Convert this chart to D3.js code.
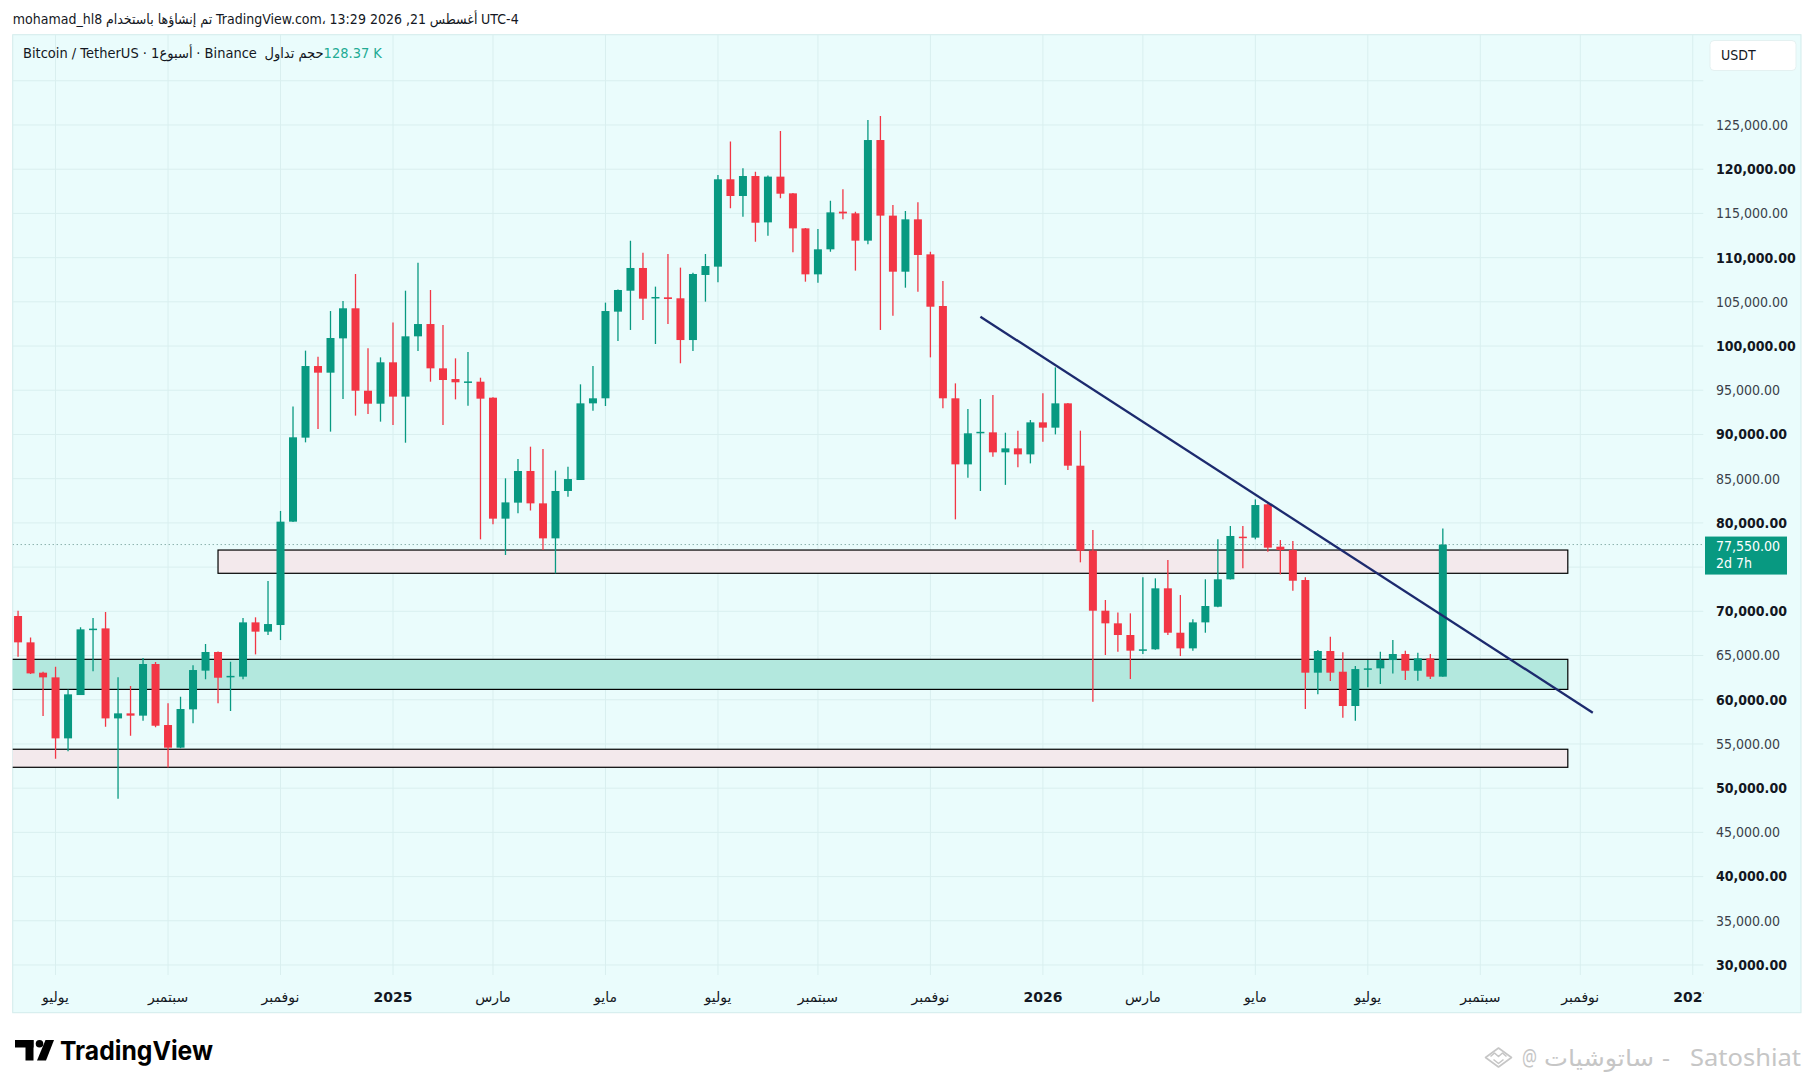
<!DOCTYPE html>
<html>
<head>
<meta charset="utf-8">
<script src="https://cdn.jsdelivr.net/npm/d3@7"></script>
<style>
body { margin: 0; background: #ffffff; }
text { font-family: 'DejaVu Sans', sans-serif; }
.scale { font-family: 'DejaVu Sans Condensed', 'DejaVu Sans', sans-serif; }
</style>
</head>
<body>
<svg id="chart"></svg>
<script>
// weekly BTC/USDT candles, first bar is the week of 10 Jun 2024
const firstWeek = "2024-06-10";
const opens = [69470,66490,63060,62530,55630,60530,67960,68070,57890,58460,58200,64040,57140,54580,58910,63290,65400,62600,62610,68750,
  67700,68450,80140,89640,97740,96990,100870,104270,94950,93480,98160,94280,101100,102490,97480,96270,95900,95970,94160,80480,
  82290,85870,82210,78250,83610,84850,93520,94090,103890,106260,108830,105450,105510,105400,100680,108040,108980,118860,116970,119230,
  113990,119160,117270,113310,108110,110940,115200,115010,111920,123300,114750,108410,114330,110370,104530,94090,86620,90200,90240,87980,
  88430,87750,91370,90770,93520,86470,76860,70070,68640,67320,65550,65700,72600,67580,65810,68750,70520,73620,78440,78330,
  82100,77310,76930,73540,63060,65510,63170,59290,63440,63550,64490,65170,63280,64680,62610];
const highs = [70070,67050,63170,63740,61170,68190,69240,69920,62530,61550,64720,64270,59590,60340,63890,66300,65450,64300,69240,69320,
  73430,81350,93150,99480,98800,103960,105100,108150,99740,98720,102650,106260,109430,106340,102380,98610,99330,96420,94200,85040,
  87230,88620,88360,85910,86360,95670,97740,104910,106400,111920,110560,106720,110410,108870,108300,110410,119350,123120,120100,119720,
  119300,124320,117300,113350,113240,116440,117720,115200,125570,126020,115950,115270,116250,110670,107360,95780,92880,94010,94460,90200,
  90430,91640,94650,97590,93550,90430,79200,71280,69880,69770,73840,73730,75800,71840,69090,73620,78140,79650,79650,82660,
  82210,78060,77950,73840,65620,67130,65360,63810,64490,65430,66750,65550,65320,65170,79380];
const lows = [64870,62900,58160,53330,54160,60530,63210,56950,48810,55930,57630,56900,52350,54500,57330,62310,59590,58720,62310,65130,
  67320,66750,80100,89110,90620,90320,94010,92130,92320,91450,91070,89070,99440,95970,91070,93970,93260,78140,79840,76370,
  81080,81400,76930,74290,82970,84850,92690,93220,100570,101820,102950,100230,102490,98050,99440,105020,107210,115580,114630,111810,
  112480,116710,110600,107280,107170,110670,114330,108530,111500,101820,103440,106600,106150,98720,92960,80400,85110,83610,87490,84300,
  86280,86730,89190,90010,85980,75540,59780,65060,65430,62340,65170,65650,67320,64940,65550,67580,70450,73600,74860,78140,
  76740,74180,72330,58950,60610,62120,57970,57630,61400,61780,62980,62230,62150,62340,62610];
const closes = [66490,62980,62530,55630,60610,67960,68040,57890,58460,58200,64040,57060,54580,58950,63360,65400,62490,62700,68750,67700,
  68560,80140,89680,97740,96990,100910,104270,94950,93480,98160,94280,101100,102490,97480,96160,95900,96000,94050,80480,82320,
  85870,82210,78250,83610,84960,93520,94090,103960,106340,108830,105360,105550,105320,100680,108150,109050,118860,116970,119230,113950,
  119160,117230,113310,108110,110940,115120,115000,111920,123300,114750,108410,114330,110300,104450,94090,86620,90130,90300,87980,88430,
  87750,91370,90770,93520,86470,76860,70070,68640,67320,65550,65700,72600,67580,65810,68750,70600,73620,78520,78370,82020,
  77200,76930,73460,63060,65510,63060,59290,63470,63550,64490,65170,63280,64680,62610,77550];

const priceTicks = [30000,35000,40000,45000,50000,55000,60000,65000,70000,75000,80000,85000,90000,95000,100000,105000,110000,115000,120000,125000];
const gridPrices = priceTicks.concat([130000]);

const tickDates = ["2024-07-01","2024-09-02","2024-11-04","2025-01-06","2025-03-03","2025-05-05","2025-07-07","2025-09-01",
  "2025-11-03","2026-01-05","2026-03-02","2026-05-04","2026-07-06","2026-09-07","2026-11-02","2027-01-04"];
const tickLabels = ["يوليو","سبتمبر","نوفمبر","2025","مارس","مايو","يوليو","سبتمبر","نوفمبر","2026","مارس","مايو","يوليو","سبتمبر","نوفمبر","2027"];

// support / resistance boxes
const zoneStarts = ["2024-09-30","2023-12-01","2023-12-01"];
const zoneEnds = ["2026-10-26","2026-10-26","2026-10-26"];
const zoneLows = [74300,61170,52360];
const zoneHighs = [76930,64570,54400];
const zoneFills = ["#f3e9ec","#b3e8de","#f3e9ec"];

const trendDates = ["2025-12-01","2026-11-09"];
const trendPrices = [103320,58530];

const lastPrice = 77550;
const countdown = "2d 7h";

const width = 1814, height = 1088;
const plot = {left: 12.7, right: 1703.5, top: 34.7, bottom: 975};
const green = "#089981", red = "#f23645", ink = "#131722";

const svg = d3.select("#chart").attr("width", width).attr("height", height);
const parse = d3.utcParse("%Y-%m-%d");

const x = d3.scaleUtc()
  .domain([parse("2024-06-07"), parse("2027-01-10")])
  .range([plot.left, plot.right]);

const y = d3.scaleLinear()
  .domain([30000, 125000])
  .range([965, 125]);

const start = parse(firstWeek);
const candles = opens.map((o, i) => ({
  date: d3.utcDay.offset(start, i * 7),
  o: o, h: highs[i], l: lows[i], c: closes[i]
}));

// panel
svg.append("rect")
  .attr("x", plot.left).attr("y", plot.top)
  .attr("width", 1801 - plot.left).attr("height", 1012.7 - plot.top)
  .attr("fill", "#eafcfc").attr("stroke", "#d3ecec");

svg.append("clipPath").attr("id", "plotClip")
  .append("rect")
  .attr("x", plot.left).attr("y", plot.top)
  .attr("width", plot.right - plot.left).attr("height", plot.bottom - plot.top);

svg.append("clipPath").attr("id", "timeClip")
  .append("rect")
  .attr("x", plot.left).attr("y", plot.bottom)
  .attr("width", plot.right - plot.left).attr("height", 40);

// grid
const grid = svg.append("g").attr("clip-path", "url(#plotClip)");
grid.selectAll("line.h")
  .data(gridPrices)
  .enter().append("line")
  .attr("class", "h")
  .attr("x1", plot.left).attr("x2", plot.right)
  .attr("y1", d => y(d)).attr("y2", d => y(d))
  .attr("stroke", "#d9efef").attr("stroke-width", 1);
grid.selectAll("line.v")
  .data(tickDates)
  .enter().append("line")
  .attr("class", "v")
  .attr("x1", d => x(parse(d))).attr("x2", d => x(parse(d)))
  .attr("y1", plot.top).attr("y2", plot.bottom)
  .attr("stroke", "#d9efef").attr("stroke-width", 1);

const chart = svg.append("g").attr("clip-path", "url(#plotClip)");

// zones
chart.selectAll("rect.zone")
  .data(zoneLows)
  .enter().append("rect")
  .attr("class", "zone")
  .attr("x", (d, i) => x(parse(zoneStarts[i])))
  .attr("width", (d, i) => x(parse(zoneEnds[i])) - x(parse(zoneStarts[i])))
  .attr("y", (d, i) => y(zoneHighs[i]))
  .attr("height", (d, i) => y(d) - y(zoneHighs[i]))
  .attr("fill", (d, i) => zoneFills[i])
  .attr("stroke", "#000000").attr("stroke-width", 1.2);

// last price line
chart.append("line")
  .attr("x1", plot.left).attr("x2", plot.right)
  .attr("y1", y(lastPrice)).attr("y2", y(lastPrice))
  .attr("stroke", "#5f8f88").attr("stroke-width", 1)
  .attr("stroke-dasharray", "1,3");

// candles
const bodyW = 8;
const bars = chart.selectAll("g.candle")
  .data(candles)
  .enter().append("g")
  .attr("class", "candle");

bars.append("line")
  .attr("x1", d => x(d.date)).attr("x2", d => x(d.date))
  .attr("y1", d => y(d.h)).attr("y2", d => y(d.l))
  .attr("stroke", d => d.c >= d.o ? green : red)
  .attr("stroke-width", 1.3);

bars.append("rect")
  .attr("x", d => x(d.date) - bodyW / 2)
  .attr("width", bodyW)
  .attr("y", d => y(Math.max(d.o, d.c)))
  .attr("height", d => Math.max(1.5, Math.abs(y(d.o) - y(d.c))))
  .attr("fill", d => d.c >= d.o ? green : red);

// trend line
chart.append("line")
  .attr("x1", x(parse(trendDates[0]))).attr("y1", y(trendPrices[0]))
  .attr("x2", x(parse(trendDates[1]))).attr("y2", y(trendPrices[1]))
  .attr("stroke", "#1c2a6e").attr("stroke-width", 2.3);

// price scale (labels under the last price tag are hidden, like TradingView does)
const tagTop = y(lastPrice) - 8, tagH = 38;
svg.append("g").selectAll("text")
  .data(priceTicks.filter(d => y(d) < tagTop - 7 || y(d) > tagTop + tagH + 7))
  .enter().append("text")
  .attr("class", "scale")
  .attr("x", 1716)
  .attr("y", d => y(d))
  .attr("dy", "0.35em")
  .attr("font-size", 14)
  .attr("font-weight", d => d % 10000 === 0 ? "bold" : "normal")
  .attr("fill", d => d % 10000 === 0 ? "#131722" : "#3b3f4a")
  .text(d => d3.format(",.2f")(d));

// USDT box
svg.append("rect")
  .attr("x", 1710).attr("y", 40.5).attr("width", 86).attr("height", 30).attr("rx", 4)
  .attr("fill", "#ffffff").attr("stroke", "#e4f1f1");
svg.append("text")
  .attr("class", "scale")
  .attr("x", 1721).attr("y", 55.5).attr("dy", "0.35em")
  .attr("font-size", 14).attr("fill", ink)
  .text("USDT");

// last price tag
svg.append("rect")
  .attr("x", 1705).attr("y", tagTop).attr("width", 82).attr("height", tagH)
  .attr("fill", green);
svg.append("text")
  .attr("class", "scale")
  .attr("x", 1716).attr("y", tagTop + 9.5).attr("dy", "0.35em")
  .attr("font-size", 14).attr("fill", "#ffffff")
  .text(d3.format(",.2f")(lastPrice));
svg.append("text")
  .attr("class", "scale")
  .attr("x", 1716).attr("y", tagTop + 26.5).attr("dy", "0.35em")
  .attr("font-size", 14).attr("fill", "#ffffff")
  .text(countdown);

// time scale
svg.append("g").attr("clip-path", "url(#timeClip)")
  .selectAll("text")
  .data(tickDates)
  .enter().append("text")
  .attr("x", d => x(parse(d)))
  .attr("y", 997)
  .attr("dy", "0.35em")
  .attr("text-anchor", "middle")
  .attr("font-size", 14)
  .attr("font-weight", (d, i) => /^\d+$/.test(tickLabels[i]) ? "bold" : "normal")
  .attr("fill", ink)
  .text((d, i) => tickLabels[i]);

// lays out mixed latin / arabic pieces one after another
function flow(parent, x0, yy, parts, size, target, family) {
  const g = parent.append("g");
  let cx = x0;
  parts.forEach(p => {
    if (p.gap) { cx += p.gap; return; }
    const t = g.append("text")
      .attr("x", cx).attr("y", yy)
      .attr("font-size", size)
      .attr("fill", p.fill || ink)
      .style("font-family", family || null)
      .text(p.t);
    if (p.len) {
      t.attr("textLength", p.len).attr("lengthAdjust", "spacingAndGlyphs");
      cx += p.len;
    } else {
      cx += t.node().getComputedTextLength();
    }
  });
  const w = cx - x0;
  if (target) {
    g.attr("transform", `translate(${x0},0) scale(${target / w},1) translate(${-x0},0)`);
  }
  return g;
}

// header line
flow(svg, 12.7, 24.5, [
  {t: "mohamad_hl8"}, {gap: 4},
  {t: "تم إنشاؤها باستخدام"}, {gap: 4},
  {t: "TradingView.com،"}, {gap: 4},
  {t: "13:29 2026 ,21"}, {gap: 4},
  {t: "أغسطس"}, {gap: 4},
  {t: "UTC-4"}
], 14, 506);

// legend line
flow(svg, 23, 58, [
  {t: "Bitcoin / TetherUS · 1"},
  {t: "أسبوع"}, {gap: 4},
  {t: "· Binance"}, {gap: 8},
  {t: "حجم تداول"},
  {t: "128.37 K", fill: "#22ab94"}
], 14, 359);

// TradingView logo
const logo = svg.append("g").attr("fill", "#000000");
logo.append("rect").attr("x", 15).attr("y", 1040).attr("width", 18.5).attr("height", 7.5);
logo.append("rect").attr("x", 25.5).attr("y", 1040).attr("width", 8).attr("height", 20.5);
logo.append("circle").attr("cx", 39.5).attr("cy", 1043.8).attr("r", 3.8);
logo.append("polygon").attr("points", "45.5,1040 54,1040 46,1060.5 37,1060.5");
svg.append("text")
  .attr("x", 60).attr("y", 1059.5)
  .attr("font-size", 26).attr("font-weight", 700)
  .style("font-family", "Inter, 'Noto Sans', sans-serif")
  .attr("textLength", 153).attr("lengthAdjust", "spacingAndGlyphs")
  .attr("fill", "#000000")
  .text("TradingView");

// watermark
const wmGrey = "#c6c6c6";
flow(svg, 1522, 1066, [
  {t: "@", len: 15, fill: wmGrey}, {gap: 7},
  {t: "ساتوشيات", len: 110, fill: wmGrey}, {gap: 8},
  {t: "-", len: 8, fill: wmGrey}, {gap: 20},
  {t: "Satoshiat", len: 111, fill: wmGrey}
], 23, null, "'Noto Sans', 'DejaVu Sans', sans-serif");

const icon = svg.append("g")
  .attr("fill", "none").attr("stroke", wmGrey).attr("stroke-width", 1.6)
  .attr("stroke-linejoin", "round")
  .attr("transform", "translate(1498.5,1057.5)");
icon.append("path").attr("d", "M-13,0 L0,-9.5 L13,0 L0,9.5 Z");
icon.append("path").attr("d", "M-8,-1 L-4,-4.5 L0,-1 L4,-4.5 L8,-1");
icon.append("path").attr("d", "M-5,2 L0,6 L5,2");
</script>
</body>
</html>
